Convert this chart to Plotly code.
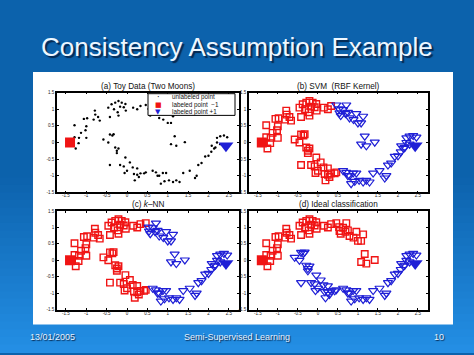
import plotly.graph_objects as go

W, H = 474, 355

# ---- data (two moons) ----
upper_x = [-1.35, -1.19, -1.26, -1.29, -1.18, -1.00, -1.13, -1.02, -1.29, -1.00,
           -1.06, -0.98, -0.79, -0.78, -0.71, -0.67, -0.82, -0.46, -0.38, -0.29,
           -0.21, -0.13, -0.04, -0.32, -0.23, -0.42, -0.21, -0.17, -0.08, -0.03,
           0.15, 0.25, 0.33, 0.46, 0.53, 0.63, 0.71, 0.54, 0.57, 0.69,
           0.75, 0.79, 0.89, 0.96, 1.00, 1.08, 1.13, 1.17, 1.08, 1.21, 1.42]
upper_y = [0.00, -0.02, -0.18, 0.16, 0.14, 0.14, 0.29, 0.37, 0.52, 0.49,
           0.71, 0.73, 0.96, 0.84, 0.77, 0.66, 0.69, 1.05, 1.15, 1.20,
           1.25, 1.20, 1.16, 1.00, 0.91, 0.77, 0.81, 1.08, 1.06, 0.96,
           1.05, 1.00, 1.10, 1.13, 1.01, 0.99, 1.13, 0.89, 0.81, 0.87,
           0.91, 0.74, 0.69, 0.87, 0.59, 0.59, 0.79, 0.19, -0.05, -0.10, 0.01]
lower_x = [-0.42, -0.36, -0.33, -0.58, -0.46, -0.29, -0.25, -0.25, -0.21, -0.04,
           -0.42, -0.17, -0.08, 0.07, 0.14, 0.25, 0.00, -0.06, 0.17, 0.25,
           0.33, 0.42, 0.46, 0.19, 0.29, 0.63, 0.71, 0.79, 0.88, 0.96,
           0.75, 0.83, 0.92, 1.03, 1.13, 1.21, 1.29, 1.38, 1.54, 1.67,
           1.71, 1.75, 1.83, 1.92, 2.00, 2.07, 2.14, 2.08, 2.17, 2.21,
           2.29, 2.38, 2.46, 2.21, 2.29]
lower_y = [0.24, 0.21, 0.25, 0.09, 0.00, -0.15, -0.25, -0.32, -0.18, -0.45,
           -0.68, -0.68, -0.72, -0.60, -0.75, -0.78, -0.85, -0.92, -0.95, -0.97,
           -0.93, -0.93, -0.90, -1.14, -1.04, -0.85, -0.90, -1.00, -0.92, -0.92,
           -1.00, -1.24, -1.17, -1.14, -1.19, -1.14, -1.19, -0.92, -0.85, -1.07,
           -1.00, -0.68, -0.62, -0.42, -0.40, -0.28, -0.18, -0.10, -0.15, 0.14,
           0.19, 0.21, 0.16, 0.00, -0.05]

labeled_neg_x, labeled_neg_y = [-1.40], [0.00]
labeled_pos_x, labeled_pos_y = [2.43], [-0.10]

# class per point (upper moon points first, then lower moon points)
svm_labels = ("rrrrrrrrrrrrrrrrrrrrrrrrrrrrrrrrrbbbbbbbbbbbbbbbbbb"
              "rrrrrrrrrrrrrrrrrrrrrrrrrbbbbbbbbbbbbbbbbbbbbbbbbbbbbbb")
knn_labels = ("rrrrrrrrrrrrrrrrrrrrrrrrrrrrrrrrrrbbbbbbbbbbbbbbbbb"
              "rrrrrrrrrrrrrrrrrrrrrrrrrbbbbbbbbbbbbbbbbbbbbbbbbbbbbbb")
ideal_labels = ("rrrrrrrrrrrrrrrrrrrrrrrrrrrrrrrrrrrrrrrrrrrrrrrrrrr"
                "bbbbbbbbbbbbbbbbbbbbbbbbbbbbbbbbbbbbbbbbbbbbbbbbbbbbbbb")

x_ticks = [-1.5, -1, -0.5, 0, 0.5, 1, 1.5, 2, 2.5]
x_tick_text = ["-1.5", "-1", "-0.5", "0", "0.5", "1", "1.5", "2", "2.5"]
y_ticks = [-1.5, -1, -0.5, 0, 0.5, 1, 1.5]
y_tick_text = ["-1.5", "-1", "-0.5", "0", "0.5", "1", "1.5"]

panel_titles = ["(a) Toy Data (Two Moons)", "(b) SVM  (RBF Kernel)",
                "(c) <i>k</i>\u2013NN", "(d) Ideal classification"]
legend_labels = ["unlabeled point", "labeled point  \u22121", "labeled point +1"]
slide_title = "Consistency Assumption Example"
footer_left, footer_mid, footer_right = "13/01/2005", "Semi-Supervised Learning", "10"

RED, BLUE = "#f01414", "#1f1fd6"

all_x = upper_x + lower_x
all_y = upper_y + lower_y


def px(x):
    return x / W


def py(y):
    return 1 - y / H


# panel boxes in pixels: (left, right, top, bottom)
boxes = [(57, 239, 92, 193), (249, 428, 92, 193),
         (57, 239, 212, 312), (249, 428, 212, 312)]

fig = go.Figure()

# ---- panel (a): unlabeled dots + labeled points ----
fig.add_trace(go.Scatter(x=all_x, y=all_y, mode="markers", xaxis="x", yaxis="y",
                         marker=dict(symbol="circle", size=2.4, color="black"),
                         showlegend=False, hoverinfo="skip"))


def add_labeled(xa, ya):
    fig.add_trace(go.Scatter(x=labeled_neg_x, y=labeled_neg_y, mode="markers", xaxis=xa, yaxis=ya,
                             marker=dict(symbol="square", size=10, color=RED),
                             showlegend=False, hoverinfo="skip"))
    fig.add_trace(go.Scatter(x=labeled_pos_x, y=labeled_pos_y, mode="markers", xaxis=xa, yaxis=ya,
                             marker=dict(symbol="triangle-down", size=13, color=BLUE),
                             showlegend=False, hoverinfo="skip"))


add_labeled("x", "y")

for k, labels in [(2, svm_labels), (3, knn_labels), (4, ideal_labels)]:
    xa, ya = f"x{k}", f"y{k}"
    rx = [x for x, l in zip(all_x, labels) if l == "r"]
    ry = [y for y, l in zip(all_y, labels) if l == "r"]
    bx = [x for x, l in zip(all_x, labels) if l == "b"]
    by = [y for y, l in zip(all_y, labels) if l == "b"]
    fig.add_trace(go.Scatter(x=rx, y=ry, mode="markers", xaxis=xa, yaxis=ya,
                             marker=dict(symbol="square-open", size=6.5, color=RED,
                                         line=dict(width=1.4, color=RED)),
                             showlegend=False, hoverinfo="skip"))
    fig.add_trace(go.Scatter(x=bx, y=by, mode="markers", xaxis=xa, yaxis=ya,
                             marker=dict(symbol="triangle-down-open", size=8, color=BLUE,
                                         line=dict(width=1.2, color=BLUE)),
                             showlegend=False, hoverinfo="skip"))
    add_labeled(xa, ya)

layout_axes = {}
for i, (l, r, t, b) in enumerate(boxes):
    suf = "" if i == 0 else str(i + 1)
    common = dict(ticks="inside", ticklen=2, tickwidth=0.8, tickcolor="black",
                  showline=True, linecolor="black", linewidth=1.5, mirror="ticks",
                  showgrid=False, zeroline=False, fixedrange=True,
                  tickfont=dict(size=4.5, color="#222", family="Liberation Sans"))
    layout_axes["xaxis" + suf] = dict(domain=[px(l), px(r)], range=[-1.72, 2.75],
                                     tickvals=x_ticks, ticktext=x_tick_text,
                                     ticklabelstandoff=-2,
                                     anchor="y" + suf, **common)
    layout_axes["yaxis" + suf] = dict(domain=[py(b), py(t)], range=[-1.5, 1.5],
                                     tickvals=y_ticks, ticktext=y_tick_text,
                                     anchor="x" + suf, **common)

shapes = []
# background gradient bands
c0 = (12, 98, 172)
c1 = (36, 142, 228)
n = 24
y0p, y1p = 170, 355
for i in range(n):
    f = i / (n - 1)
    col = tuple(int(c0[j] + (c1[j] - c0[j]) * f) for j in range(3))
    ya0 = y0p + (y1p - y0p) * i / n
    ya1 = y0p + (y1p - y0p) * (i + 1) / n + 1
    shapes.append(dict(type="rect", xref="paper", yref="paper", layer="below",
                       x0=0, x1=1, y0=py(ya1), y1=py(ya0),
                       fillcolor="rgb(%d,%d,%d)" % col, line=dict(width=0)))
# white panel
shapes.append(dict(type="rect", xref="paper", yref="paper", layer="below",
                   x0=px(33), x1=px(453), y0=py(327), y1=py(71),
                   fillcolor="white", line=dict(width=0)))
# legend box in panel (a)
shapes.append(dict(type="rect", xref="paper", yref="paper", layer="above",
                   x0=px(148), x1=px(235), y0=py(115), y1=py(93),
                   fillcolor="white", line=dict(width=1, color="black")))

annotations = []
title_pos = [(148, 86), (338, 86), (148, 205.5), (338, 205.5)]
for (cx, cy), t in zip(title_pos, panel_titles):
    annotations.append(dict(text=t, x=px(cx), y=py(cy), xref="paper", yref="paper",
                            showarrow=False, xanchor="center", yanchor="middle",
                            font=dict(size=8.2, color="#111", family="Liberation Sans")))

legend_rows = [96.8, 104.0, 111.2]
legend_syms = [("\u00b7", "black", 8), ("\u25a0", RED, 7), ("\u25bc", BLUE, 7)]
for yy, lab, (sym, col, fs) in zip(legend_rows, legend_labels, legend_syms):
    annotations.append(dict(text=sym, x=px(158), y=py(yy), xref="paper", yref="paper",
                            showarrow=False, xanchor="center", yanchor="middle",
                            font=dict(size=fs, color=col, family="DejaVu Sans")))
    annotations.append(dict(text=lab, x=px(170), y=py(yy), xref="paper", yref="paper",
                            showarrow=False, xanchor="left", yanchor="middle",
                            font=dict(size=6.3, color="#111", family="Liberation Sans")))

annotations.append(dict(text=slide_title, x=px(237), y=py(46), xref="paper", yref="paper",
                        showarrow=False, xanchor="center", yanchor="middle",
                        font=dict(size=26, color="#eef7ff", family="Liberation Sans",
                                  shadow="2px 2px 1px #06284f")))
for txt, cx in [(footer_left, 52), (footer_mid, 237), (footer_right, 439)]:
    annotations.append(dict(text=txt, x=px(cx), y=py(340), xref="paper", yref="paper",
                            showarrow=False, xanchor="center", yanchor="middle",
                            font=dict(size=9, color="#e6f2ff", family="Liberation Sans",
                                      shadow="1px 1px 1px #06284f")))

fig.update_layout(width=W, height=H, autosize=False,
                  margin=dict(l=0, r=0, t=0, b=0),
                  paper_bgcolor="rgb(12,98,172)", plot_bgcolor="white",
                  shapes=shapes, annotations=annotations, showlegend=False,
                  **layout_axes)

fig.write_html("out.html", config=dict(displayModeBar=False),
               post_script="document.body.style.margin='0';document.body.style.overflow='hidden';")
